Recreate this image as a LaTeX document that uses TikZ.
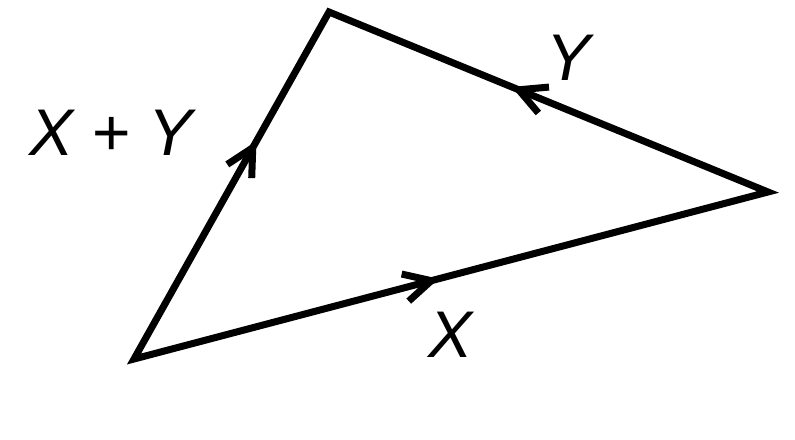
\documentclass[tikz,border=0pt]{standalone}
\usepackage{fontspec}
\setmainfont{Liberation Sans}
\usetikzlibrary{decorations.markings}
\tikzset{
  edge/.style={line width=7pt, line join=miter},
  chev/.style={decorate, decoration={markings, mark=at position #1 with {\draw[line width=7pt, line join=miter] (-27pt,14pt) -- (0pt,0pt) -- (-27pt,-14pt);}}},
  lbl/.style={inner sep=0pt, font=\fontsize{66}{70}\selectfont\itshape}
}
\begin{document}
\begin{tikzpicture}[x=1pt,y=-1pt]
\useasboundingbox (0,0) rectangle (795,439);
\coordinate (A) at (134,359);
\coordinate (B) at (329,12);
\coordinate (C) at (768,192);
\draw[edge] (A) -- (B) -- (C) -- cycle;
\path[chev=0.469] (A) -- (C);
\path[chev=0.568] (C) -- (B);
\path[chev=0.609] (A) -- (B);
\node[lbl, anchor=base west] (lxy) at (29,155) {X + Y};
\node[lbl, anchor=base west] (ly) at (546,80) {Y};
\node[lbl, anchor=base west] (lx) at (428,357) {X};
\end{tikzpicture}
\end{document}
